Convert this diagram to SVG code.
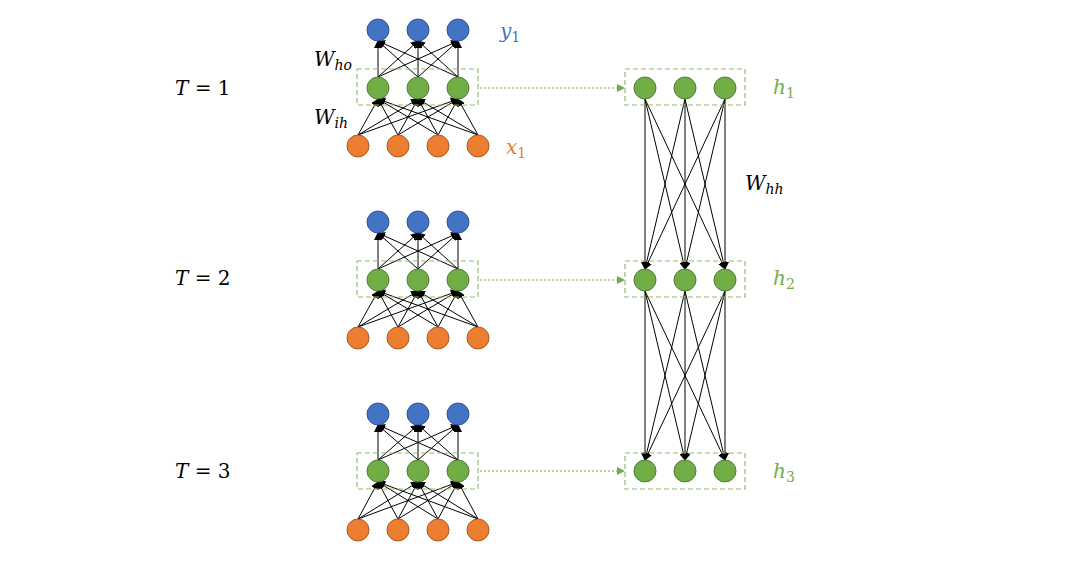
<svg xmlns="http://www.w3.org/2000/svg" width="1080" height="562" viewBox="0 0 1080 562">
<style>
.b{fill:#4472c4;stroke:#2f5597;stroke-width:1}
.g{fill:#70ad47;stroke:#507e32;stroke-width:1}
.o{fill:#ed7d31;stroke:#ae5a21;stroke-width:1}
.box{fill:none;stroke:#8fbc6f;stroke-width:1.2;stroke-dasharray:5,3}
.e line{stroke:#000;stroke-width:1;marker-end:url(#ah)}
.d{stroke:#70ad47;stroke-width:1.2;stroke-dasharray:2,2;marker-end:url(#gh)}
text{font-family:"DejaVu Serif","Liberation Serif",serif;font-style:italic;font-size:20px}
.sub{font-size:14px}
</style>
<defs>
<marker id="ah" markerWidth="8" markerHeight="8" refX="7" refY="4" orient="auto" markerUnits="userSpaceOnUse"><path d="M0,0L8,4L0,8z" fill="#000"/></marker>
<marker id="gh" markerWidth="8" markerHeight="8" refX="7" refY="4" orient="auto" markerUnits="userSpaceOnUse"><path d="M0,0L8,4L0,8z" fill="#70ad47"/></marker>
</defs>
<rect width="1080" height="562" fill="#fff"/>
<g id="connectors" class="e">
<!-- block 1 -->
<line x1="378" y1="77" x2="378" y2="41"/><line x1="378" y1="77" x2="418" y2="41"/><line x1="378" y1="77" x2="458" y2="41"/>
<line x1="418" y1="77" x2="378" y2="41"/><line x1="418" y1="77" x2="418" y2="41"/><line x1="418" y1="77" x2="458" y2="41"/>
<line x1="458" y1="77" x2="378" y2="41"/><line x1="458" y1="77" x2="418" y2="41"/><line x1="458" y1="77" x2="458" y2="41"/>
<line x1="358" y1="135" x2="378" y2="99"/><line x1="358" y1="135" x2="418" y2="99"/><line x1="358" y1="135" x2="458" y2="99"/>
<line x1="398" y1="135" x2="378" y2="99"/><line x1="398" y1="135" x2="418" y2="99"/><line x1="398" y1="135" x2="458" y2="99"/>
<line x1="438" y1="135" x2="378" y2="99"/><line x1="438" y1="135" x2="418" y2="99"/><line x1="438" y1="135" x2="458" y2="99"/>
<line x1="478" y1="135" x2="378" y2="99"/><line x1="478" y1="135" x2="418" y2="99"/><line x1="478" y1="135" x2="458" y2="99"/>
<!-- block 2 -->
<line x1="378" y1="269" x2="378" y2="233"/><line x1="378" y1="269" x2="418" y2="233"/><line x1="378" y1="269" x2="458" y2="233"/>
<line x1="418" y1="269" x2="378" y2="233"/><line x1="418" y1="269" x2="418" y2="233"/><line x1="418" y1="269" x2="458" y2="233"/>
<line x1="458" y1="269" x2="378" y2="233"/><line x1="458" y1="269" x2="418" y2="233"/><line x1="458" y1="269" x2="458" y2="233"/>
<line x1="358" y1="327" x2="378" y2="291"/><line x1="358" y1="327" x2="418" y2="291"/><line x1="358" y1="327" x2="458" y2="291"/>
<line x1="398" y1="327" x2="378" y2="291"/><line x1="398" y1="327" x2="418" y2="291"/><line x1="398" y1="327" x2="458" y2="291"/>
<line x1="438" y1="327" x2="378" y2="291"/><line x1="438" y1="327" x2="418" y2="291"/><line x1="438" y1="327" x2="458" y2="291"/>
<line x1="478" y1="327" x2="378" y2="291"/><line x1="478" y1="327" x2="418" y2="291"/><line x1="478" y1="327" x2="458" y2="291"/>
<!-- block 3 -->
<line x1="378" y1="460" x2="378" y2="425"/><line x1="378" y1="460" x2="418" y2="425"/><line x1="378" y1="460" x2="458" y2="425"/>
<line x1="418" y1="460" x2="378" y2="425"/><line x1="418" y1="460" x2="418" y2="425"/><line x1="418" y1="460" x2="458" y2="425"/>
<line x1="458" y1="460" x2="378" y2="425"/><line x1="458" y1="460" x2="418" y2="425"/><line x1="458" y1="460" x2="458" y2="425"/>
<line x1="358" y1="519" x2="378" y2="482"/><line x1="358" y1="519" x2="418" y2="482"/><line x1="358" y1="519" x2="458" y2="482"/>
<line x1="398" y1="519" x2="378" y2="482"/><line x1="398" y1="519" x2="418" y2="482"/><line x1="398" y1="519" x2="458" y2="482"/>
<line x1="438" y1="519" x2="378" y2="482"/><line x1="438" y1="519" x2="418" y2="482"/><line x1="438" y1="519" x2="458" y2="482"/>
<line x1="478" y1="519" x2="378" y2="482"/><line x1="478" y1="519" x2="418" y2="482"/><line x1="478" y1="519" x2="458" y2="482"/>
<!-- hh 1->2 -->
<line x1="645" y1="99" x2="645" y2="269"/><line x1="645" y1="99" x2="685" y2="269"/><line x1="645" y1="99" x2="725" y2="269"/>
<line x1="685" y1="99" x2="645" y2="269"/><line x1="685" y1="99" x2="685" y2="269"/><line x1="685" y1="99" x2="725" y2="269"/>
<line x1="725" y1="99" x2="645" y2="269"/><line x1="725" y1="99" x2="685" y2="269"/><line x1="725" y1="99" x2="725" y2="269"/>
<!-- hh 2->3 -->
<line x1="645" y1="291" x2="645" y2="460"/><line x1="645" y1="291" x2="685" y2="460"/><line x1="645" y1="291" x2="725" y2="460"/>
<line x1="685" y1="291" x2="645" y2="460"/><line x1="685" y1="291" x2="685" y2="460"/><line x1="685" y1="291" x2="725" y2="460"/>
<line x1="725" y1="291" x2="645" y2="460"/><line x1="725" y1="291" x2="685" y2="460"/><line x1="725" y1="291" x2="725" y2="460"/>
<line class="d" x1="480" y1="88" x2="624" y2="88" style="marker-end:url(#gh);stroke:#70ad47;stroke-dasharray:2,2"/>
<line class="d" x1="480" y1="280" x2="624" y2="280" style="marker-end:url(#gh);stroke:#70ad47;stroke-dasharray:2,2"/>
<line class="d" x1="480" y1="471" x2="624" y2="471" style="marker-end:url(#gh);stroke:#70ad47;stroke-dasharray:2,2"/>
</g>
<g id="block1">
<rect class="box" x="357" y="69" width="121" height="36"/>
<circle class="b" cx="378" cy="30" r="11"/><circle class="b" cx="418" cy="30" r="11"/><circle class="b" cx="458" cy="30" r="11"/>
<circle class="g" cx="378" cy="88" r="11"/><circle class="g" cx="418" cy="88" r="11"/><circle class="g" cx="458" cy="88" r="11"/>
<circle class="o" cx="358" cy="146" r="11"/><circle class="o" cx="398" cy="146" r="11"/><circle class="o" cx="438" cy="146" r="11"/><circle class="o" cx="478" cy="146" r="11"/>
</g>
<g id="block2">
<rect class="box" x="357" y="261" width="121" height="36"/>
<circle class="b" cx="378" cy="222" r="11"/><circle class="b" cx="418" cy="222" r="11"/><circle class="b" cx="458" cy="222" r="11"/>
<circle class="g" cx="378" cy="280" r="11"/><circle class="g" cx="418" cy="280" r="11"/><circle class="g" cx="458" cy="280" r="11"/>
<circle class="o" cx="358" cy="338" r="11"/><circle class="o" cx="398" cy="338" r="11"/><circle class="o" cx="438" cy="338" r="11"/><circle class="o" cx="478" cy="338" r="11"/>
</g>
<g id="block3">
<rect class="box" x="357" y="453" width="121" height="36"/>
<circle class="b" cx="378" cy="414" r="11"/><circle class="b" cx="418" cy="414" r="11"/><circle class="b" cx="458" cy="414" r="11"/>
<circle class="g" cx="378" cy="471" r="11"/><circle class="g" cx="418" cy="471" r="11"/><circle class="g" cx="458" cy="471" r="11"/>
<circle class="o" cx="358" cy="530" r="11"/><circle class="o" cx="398" cy="530" r="11"/><circle class="o" cx="438" cy="530" r="11"/><circle class="o" cx="478" cy="530" r="11"/>
</g>
<g id="h1"><rect class="box" x="625" y="69" width="120" height="36"/>
<circle class="g" cx="645" cy="88" r="11"/><circle class="g" cx="685" cy="88" r="11"/><circle class="g" cx="725" cy="88" r="11"/></g>
<g id="h2"><rect class="box" x="625" y="261" width="120" height="36"/>
<circle class="g" cx="645" cy="280" r="11"/><circle class="g" cx="685" cy="280" r="11"/><circle class="g" cx="725" cy="280" r="11"/></g>
<g id="h3"><rect class="box" x="625" y="453" width="120" height="36"/>
<circle class="g" cx="645" cy="471" r="11"/><circle class="g" cx="685" cy="471" r="11"/><circle class="g" cx="725" cy="471" r="11"/></g>
<g id="labels">
<text x="175" y="95">T <tspan font-style="normal">= 1</tspan></text>
<text x="175" y="285">T <tspan font-style="normal">= 2</tspan></text>
<text x="175" y="478">T <tspan font-style="normal">= 3</tspan></text>
<text x="314" y="66">W<tspan class="sub" dy="4">ho</tspan></text>
<text x="314" y="124">W<tspan class="sub" dy="4">ih</tspan></text>
<text x="745" y="190">W<tspan class="sub" dy="4">hh</tspan></text>
<text x="500" y="38" fill="#4472c4">y<tspan class="sub" font-style="normal" dy="4">1</tspan></text>
<text x="506" y="154" fill="#ed7d31">x<tspan class="sub" font-style="normal" dy="4">1</tspan></text>
<text x="773" y="94" fill="#70ad47">h<tspan class="sub" font-style="normal" dy="4">1</tspan></text>
<text x="773" y="285" fill="#70ad47">h<tspan class="sub" font-style="normal" dy="4">2</tspan></text>
<text x="773" y="478" fill="#70ad47">h<tspan class="sub" font-style="normal" dy="4">3</tspan></text>
</g>
</svg>
